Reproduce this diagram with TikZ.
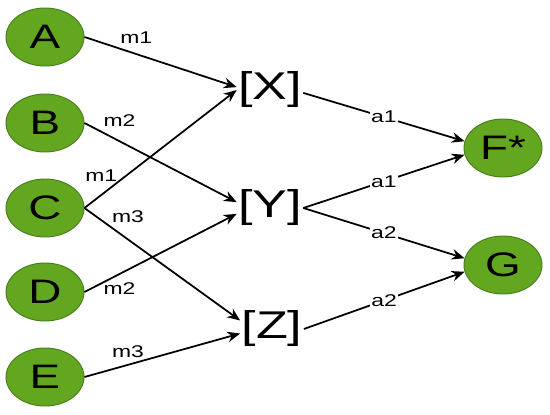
\documentclass[tikz,border=0pt]{standalone}
\usepackage{fontspec}
\setmainfont{Liberation Sans}
\newfontfamily\widesans[FakeStretch=1.35]{Liberation Sans}
\usetikzlibrary{shapes.geometric,arrows.meta}

\definecolor{leaf}{RGB}{99,167,33}
\definecolor{leafdark}{RGB}{70,125,28}

\tikzset{
  factor/.style={ellipse, draw=leafdark, fill=leaf, line width=0.8pt,
    minimum width=2.34cm, minimum height=1.74cm, inner sep=0pt,
    font=\widesans\fontsize{29}{29}\selectfont},
  group/.style={inner sep=1pt, font=\widesans\fontsize{33}{33}\selectfont},
  link/.style={-{Stealth[length=11pt,width=9pt]}, line width=1.5pt},
  tag/.style={inner sep=0pt, anchor=center, font=\widesans\fontsize{14.5}{14.5}\selectfont},
  ontag/.style={tag, fill=white, inner sep=1pt}
}

\begin{document}
\begin{tikzpicture}[x=0.03cm, y=-0.03cm]
        \useasboundingbox (0,0) rectangle (550,415);

        % Inputs
        \node[factor] (A) at (45,37)  {A};
        \node[factor] (B) at (45,123) {B};
        \node[factor] (C) at (45,208) {C};
        \node[factor] (D) at (45,292) {D};
        \node[factor] (E) at (45,377) {E};

        % Groups
        \node[group] (X) at (270,90)  {[X]};
        \node[group] (Y) at (270,208) {[Y]};
        \node[group] (Z) at (272,329) {[Z]};

        % Outputs
        \node[factor] (F) at (503,148) {F*};
        \node[factor] (G) at (503,265) {G};

        % Inputs to groups
        \draw[link] (A.east) -- node[tag, pos=0.34, yshift=13.9pt] {m1} (X.175);
        \draw[link] (C.east) -- node[tag, pos=0.11, yshift=16.4pt] {m1} (X.west);
        \draw[link] (B.east) -- node[tag, pos=0.23, yshift=18pt] {m2} (Y.170);
        \draw[link] (D.east) -- node[tag, pos=0.23, yshift=-12.3pt] {m2} (Y.190);
        \draw[link] (C.east) -- node[tag, pos=0.28, yshift=19.9pt] {m3} (Z.165);
        \draw[link] (E.east) -- node[tag, pos=0.28, yshift=10.9pt] {m3} (Z.188);

        % Groups to outputs
        \draw[link] (X.355) -- node[ontag] {a1} (F.170);
        \draw[link] (Y.east) -- node[ontag] {a1} (F.190);
        \draw[link] (Y.east) -- node[ontag] {a2} (G.170);
        \draw[link] (Z.east) -- node[ontag] {a2} (G.190);
\end{tikzpicture}
\end{document}
